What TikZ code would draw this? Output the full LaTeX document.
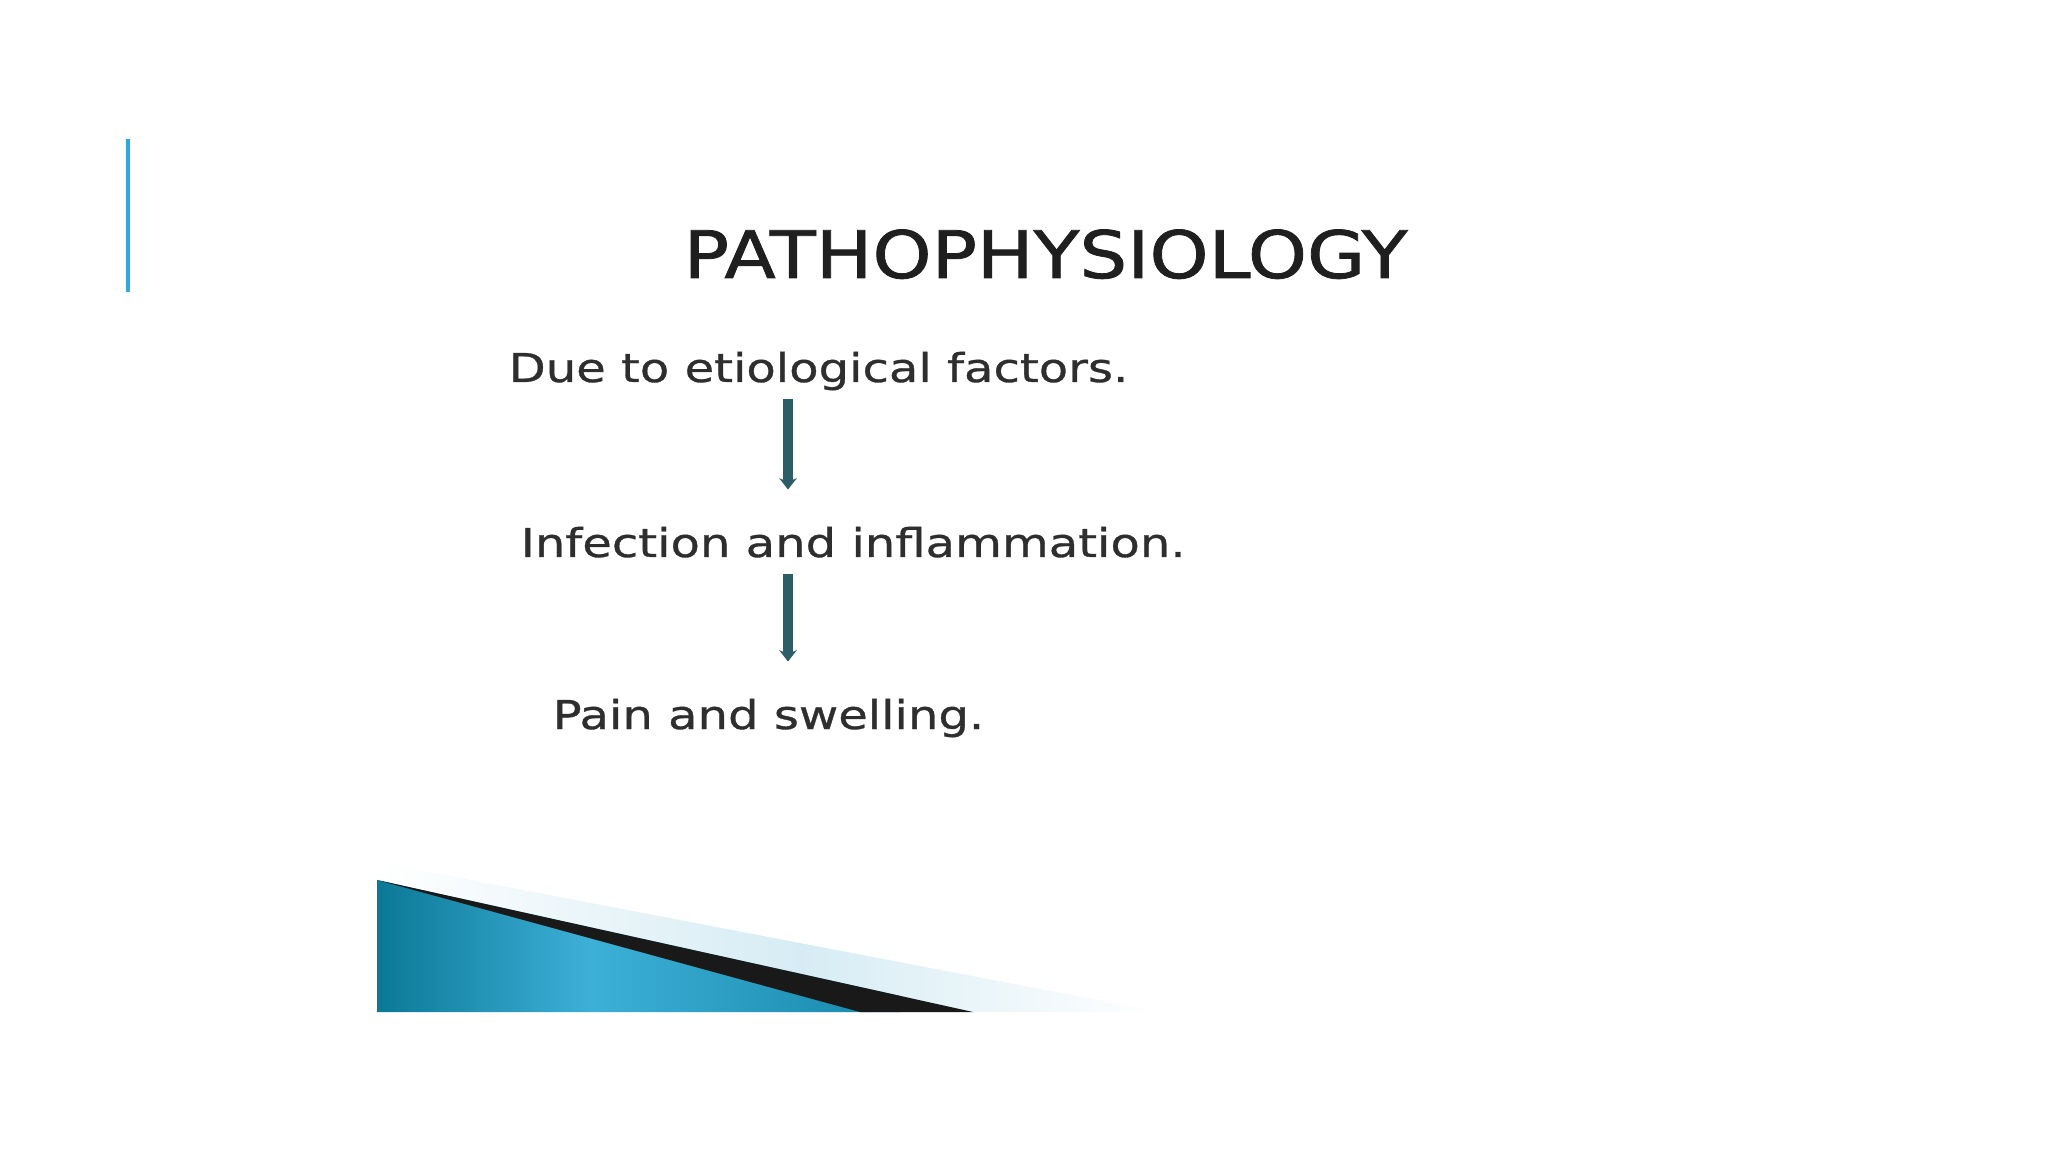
\documentclass[tikz,border=0pt]{standalone}
\usepackage{fontspec}
\setmainfont{DejaVu Sans}
\newfontfamily\headfont[FakeStretch=1.15, FakeBold=1.2]{DejaVu Sans}
\newfontfamily\flowfont[FakeStretch=1.21, FakeBold=0.8]{DejaVu Sans}
\usetikzlibrary{positioning, arrows.meta}

\definecolor{accentblue}{HTML}{2FA8E0}
\definecolor{arrowteal}{HTML}{2D5D66}
\definecolor{tealdark}{HTML}{0B7896}
\definecolor{teallight}{HTML}{3DB0D8}
\definecolor{tealmid}{HTML}{1688AA}
\definecolor{paleblue}{HTML}{D6ECF4}

\begin{document}
\begin{tikzpicture}
        [x=0.01cm, y=-0.01cm,
         heading/.style={font=\headfont\fontsize{18.6}{22}\selectfont, text=black!88, anchor=base west, inner sep=0pt},
         flowtext/.style={font=\flowfont\fontsize{11.3}{14}\selectfont, text=black!82, anchor=base west,
                          inner sep=0pt, text height=9pt, text depth=3pt},
         flow/.style={draw=arrowteal, line width=2.6pt, shorten <=1.6pt, shorten >=10pt},
         >={Stealth[length=3.2pt, width=5pt]}]
        \useasboundingbox[fill=white] (0,0) rectangle (2048,1152);

        % accent bar
        \draw[accentblue, line width=0.9pt] (128,139) -- (128,292);

        \node[heading] (title) at (683,278) {PATHOPHYSIOLOGY};
        \node[flowtext] (cause) at (508,382) {Due to etiological factors.};
        \node[flowtext] (infection) at (520,557) {Infection and inflammation.};
        \node[flowtext] (pain) at (552,729) {Pain and swelling.};
        \coordinate (spine) at (788,0);

        \path [->] (cause.south -| spine) edge[flow] (infection.north -| spine);
        \path [->] (infection.south -| spine) edge[flow] (pain.north -| spine);

        % wave at the bottom
        \begin{scope}
          \clip (377,862) -- (1160,1012) -- (377,1012) -- cycle;
          \shade[left color=white, right color=paleblue] (377,850) rectangle (800,1012);
          \shade[left color=paleblue, right color=white] (800,850) rectangle (1160,1012);
        \end{scope}
        \begin{scope}
          \clip (377,880) -- (973,1012) -- (377,1012) -- cycle;
          \shade[left color=tealdark, right color=teallight] (377,870) rectangle (590,1012);
          \shade[left color=teallight, right color=tealmid] (590,870) rectangle (900,1012);
        \end{scope}
        \fill[black!90] (377,880) -- (973,1012) -- (860,1012) -- cycle;
\end{tikzpicture}
\end{document}
